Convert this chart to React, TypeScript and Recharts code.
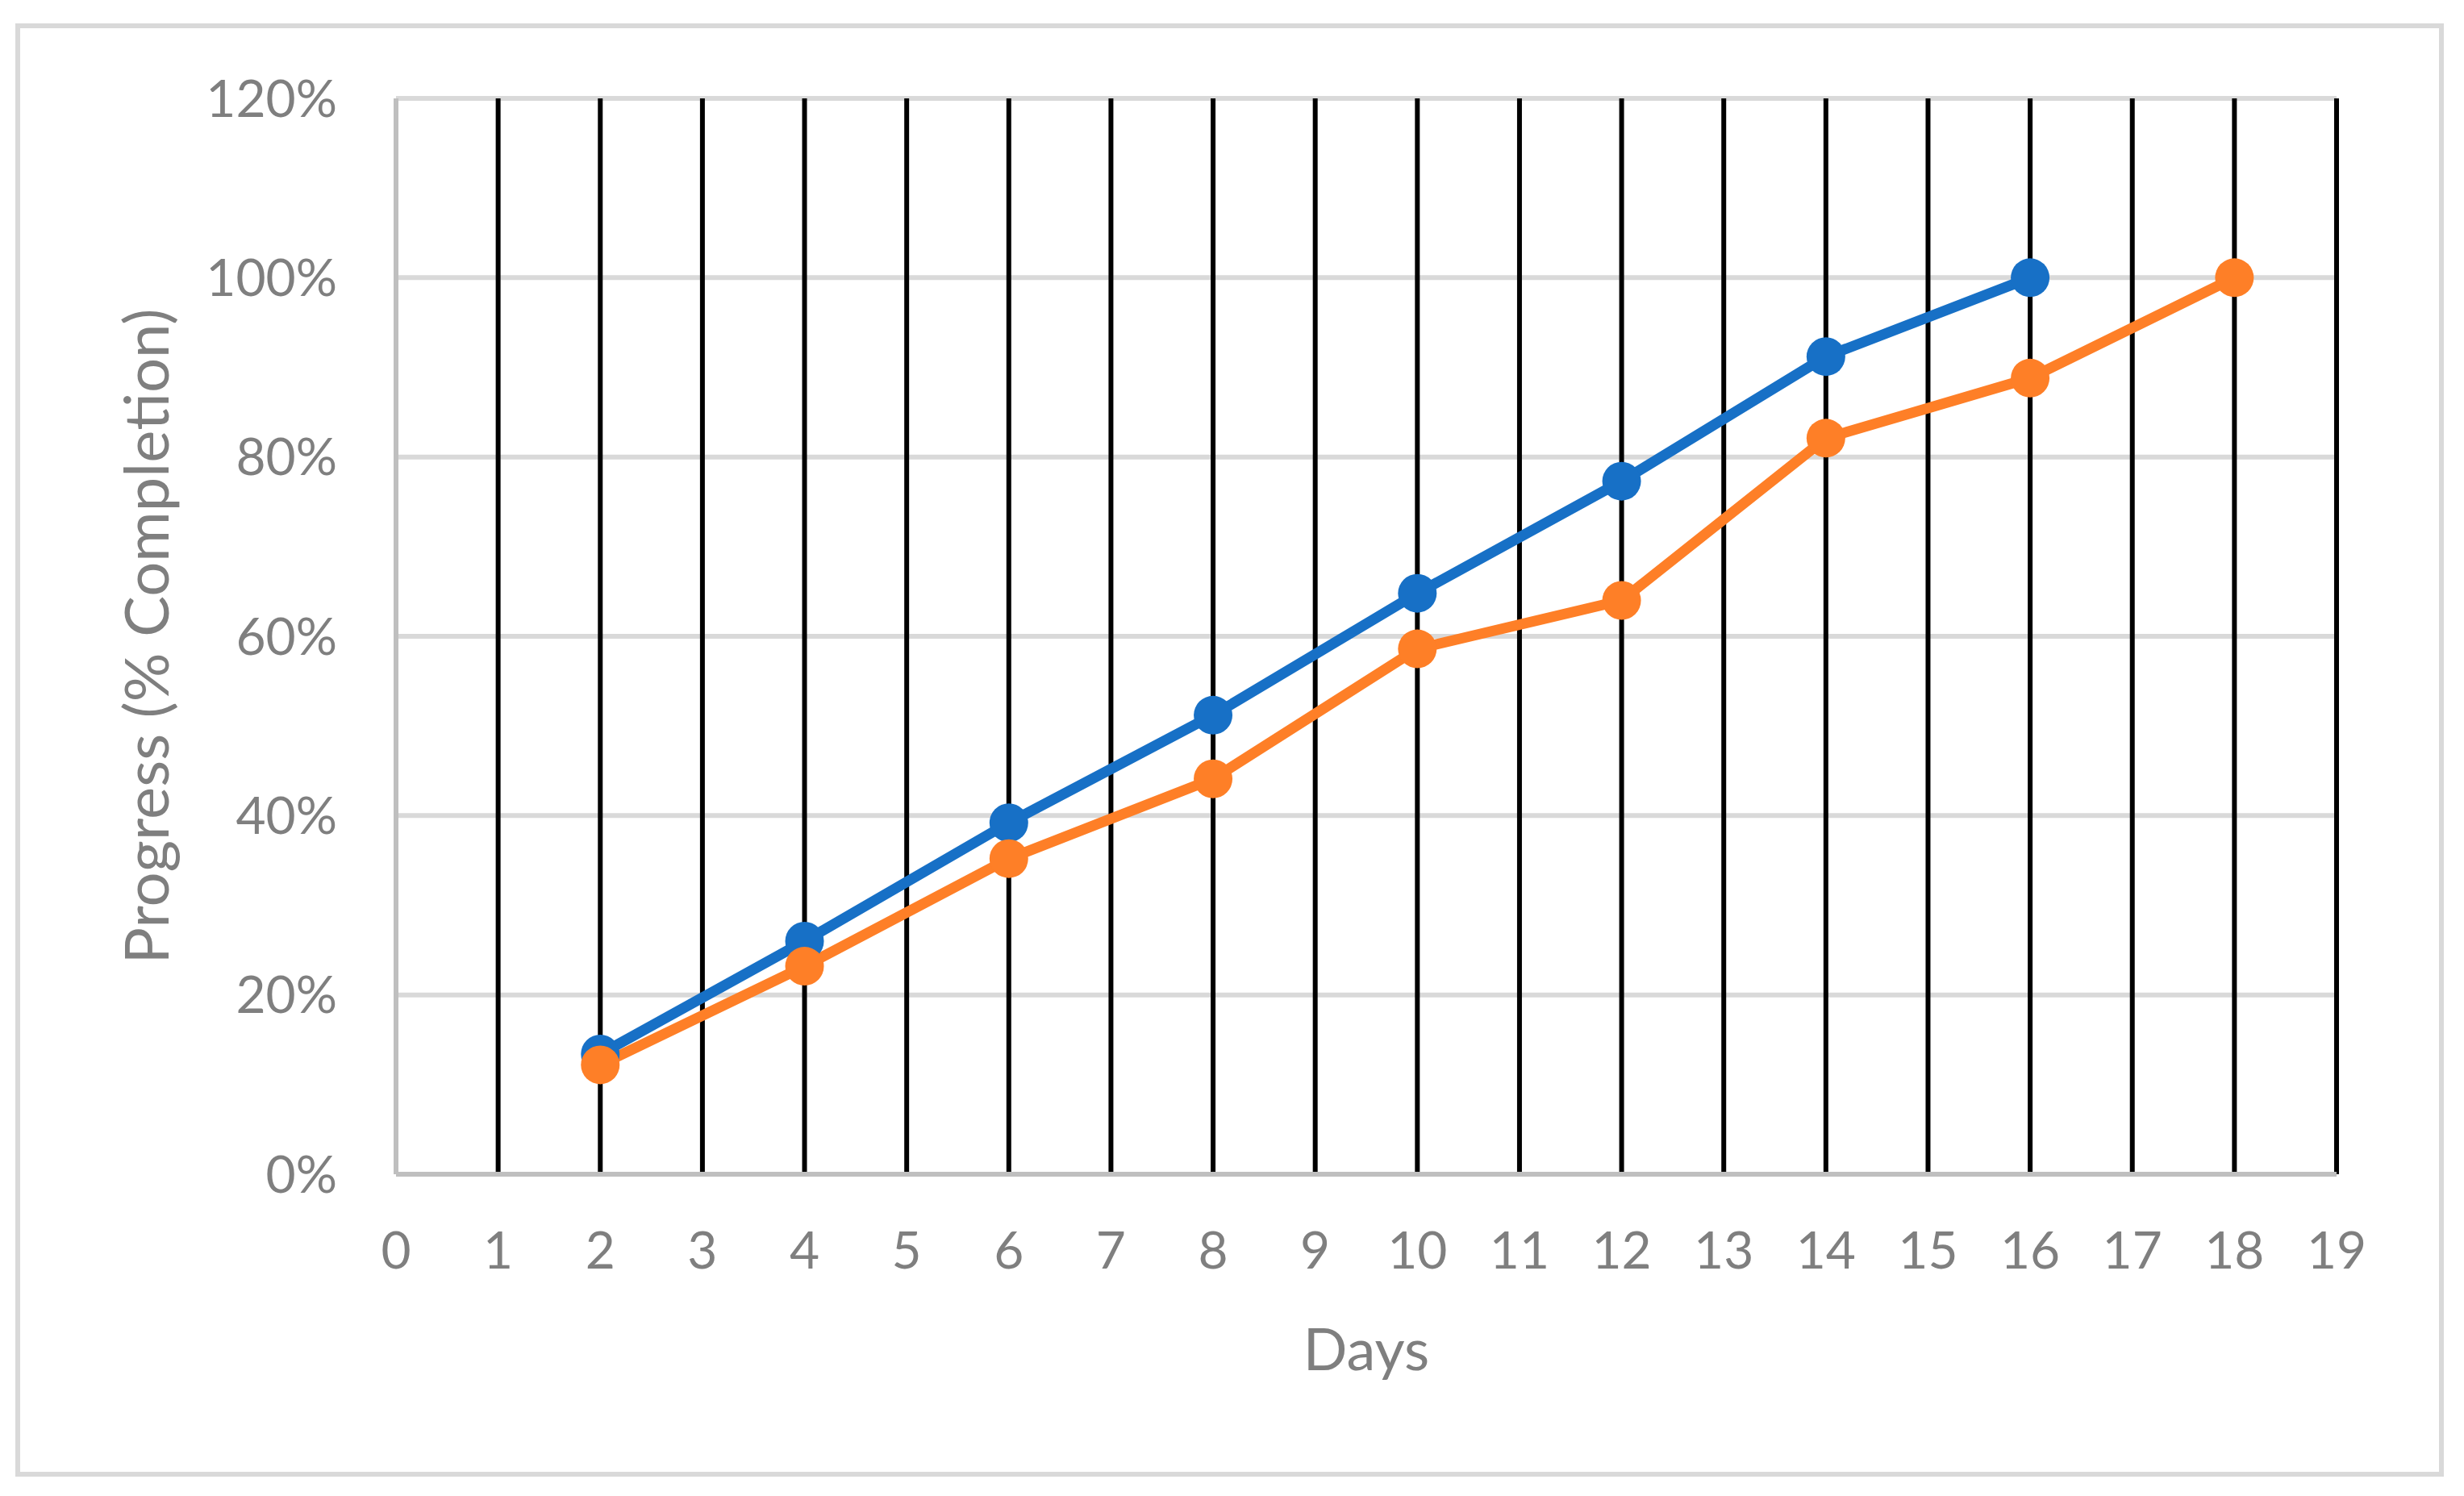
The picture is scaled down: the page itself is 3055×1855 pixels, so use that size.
import { LineChart, Line, XAxis, YAxis, CartesianGrid } from 'recharts';

// days on the x axis (0..19) and progress ticks in percent
const dayTicks = [0, 1, 2, 3, 4, 5, 6, 7, 8, 9, 10, 11, 12, 13, 14, 15, 16, 17, 18, 19];
const progressTicks = [0, 20, 40, 60, 80, 100, 120];

// blue series
const blueDays = [2, 4, 6, 8, 10, 12, 14, 16];
const blueProgress = [13.4, 26, 39.2, 51.2, 64.8, 77.3, 91.2, 100];

// orange series
const orangeDays = [2, 4, 6, 8, 10, 12, 14, 16, 18];
const orangeProgress = [12.2, 23.2, 35.2, 44.1, 58.6, 64, 82.1, 88.8, 100];

const blueData = blueDays.map((d, i) => ({ day: d, progress: blueProgress[i] }));
const orangeData = orangeDays.map((d, i) => ({ day: d, progress: orangeProgress[i] }));

const FONT = 'Lato, "Open Sans", sans-serif';
const TEXT = '#7f7f7f';
const BLUE = '#1770c6';
const ORANGE = '#fe7f27';

export default function App() {
  return (
    <div style={{ position: 'absolute', left: 0, top: 0, width: 3055, height: 1855, background: '#fff', fontFamily: FONT }}>
      <div
        style={{
          position: 'absolute',
          left: 19,
          top: 29,
          width: 3011,
          height: 1802,
          border: '6px solid #d9d9d9',
          boxSizing: 'border-box',
        }}
      />
      <div style={{ position: 'absolute', left: 0, top: 0 }}>
        <LineChart width={3055} height={1855} margin={{ top: 122, right: 158, bottom: 99, left: 0 }}>
          <CartesianGrid horizontal vertical={false} stroke="#d9d9d9" strokeWidth={6} />
          <CartesianGrid horizontal={false} vertical stroke="#000" strokeWidth={6} />
          <XAxis
            type="number"
            dataKey="day"
            domain={[0, 19]}
            ticks={dayTicks}
            interval={0}
            allowDuplicatedCategory={false}
            height={300}
            axisLine={{ stroke: '#bfbfbf', strokeWidth: 6 }}
            tickLine={false}
            tickMargin={66}
            tick={{ fill: TEXT, fontSize: 64, fontFamily: FONT }}
            label={{
              value: 'Days',
              position: 'insideBottom',
              offset: 57,
              fill: TEXT,
              fontSize: 72,
              fontFamily: FONT,
            }}
          />
          <YAxis
            type="number"
            domain={[0, 120]}
            ticks={progressTicks}
            interval={0}
            width={491}
            axisLine={{ stroke: '#bfbfbf', strokeWidth: 6 }}
            tickLine={false}
            tickMargin={67}
            tickFormatter={(v: number) => `${v}%`}
            tick={{ fill: TEXT, fontSize: 64, fontFamily: FONT }}
            label={{
              value: 'Progress (% Completion)',
              angle: -90,
              position: 'insideLeft',
              offset: 182,
              fill: TEXT,
              fontSize: 76,
              fontFamily: FONT,
              style: { textAnchor: 'middle' },
            }}
          />
          <Line
            data={blueData}
            dataKey="progress"
            type="linear"
            stroke={BLUE}
            strokeWidth={13}
            strokeLinejoin="round"
            dot={{ r: 24, fill: BLUE, stroke: BLUE, strokeWidth: 0 }}
            activeDot={false}
            isAnimationActive={false}
          />
          <Line
            data={orangeData}
            dataKey="progress"
            type="linear"
            stroke={ORANGE}
            strokeWidth={13}
            strokeLinejoin="round"
            dot={{ r: 24, fill: ORANGE, stroke: ORANGE, strokeWidth: 0 }}
            activeDot={false}
            isAnimationActive={false}
          />
        </LineChart>
      </div>
    </div>
  );
}
